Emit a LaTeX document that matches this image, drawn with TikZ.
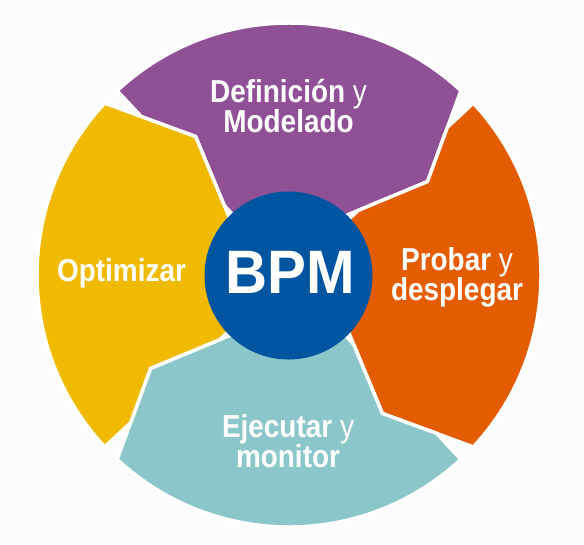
\documentclass[tikz,border=0pt]{standalone}
\usepackage{fontspec}
\setmainfont{Liberation Sans}[FakeStretch=0.88]
\newfontfamily\bpmfont{Liberation Sans}[FakeStretch=0.95]
\tikzset{every picture/.style={line width=0.75pt}}
\tikzset{segment/.style={draw=white, line width=2.6pt, line join=miter},
  seglabel/.style={text=white, align=center, font=\fontsize{23.8}{22.5}\selectfont}}

\begin{document}
\begin{tikzpicture}[x=0.75pt,y=0.75pt,yscale=-1,xscale=1]
\useasboundingbox (0,0) rectangle (584,544);

%Shape: Rectangle [background]
\fill [color={rgb, 255:red, 252; green, 252; blue, 254 }] (0,0) rectangle (584,544);

\begin{scope}[shift={(289,275)}, yscale=-1]
%Shape: Segment [top]
\draw [segment, fill={rgb, 255:red, 143; green, 80; blue, 150 }] (133:252) arc [start angle=133, end angle=47, radius=252] -- (34:167) -- (47:80) arc [start angle=47, end angle=133, radius=80] -- (133:94.8) -- (124:167) -- (133:216.6) -- cycle ;
%Shape: Segment [right]
\draw [segment, rotate=-90, fill={rgb, 255:red, 227; green, 92; blue, 0 }] (133:252) arc [start angle=133, end angle=47, radius=252] -- (34:167) -- (47:80) arc [start angle=47, end angle=133, radius=80] -- (133:94.8) -- (124:167) -- (133:216.6) -- cycle ;
%Shape: Segment [bottom]
\draw [segment, rotate=-180, fill={rgb, 255:red, 139; green, 199; blue, 202 }] (133:252) arc [start angle=133, end angle=47, radius=252] -- (34:167) -- (47:80) arc [start angle=47, end angle=133, radius=80] -- (133:94.8) -- (124:167) -- (133:216.6) -- cycle ;
%Shape: Segment [left]
\draw [segment, rotate=90, fill={rgb, 255:red, 240; green, 186; blue, 0 }] (133:252) arc [start angle=133, end angle=47, radius=252] -- (34:167) -- (47:80) arc [start angle=47, end angle=133, radius=80] -- (133:94.8) -- (124:167) -- (133:216.6) -- cycle ;
\end{scope}

%Shape: Circle [centre]
\fill [color={rgb, 255:red, 0; green, 85; blue, 161 }] (288.5,275.5) circle (84) ;

% Text Node
\node [seglabel] (defin) at (288.5,106) {\textbf{Definición} y\\\textbf{Modelado}};
% Text Node
\node [seglabel] (probar) at (457,277.7) {\textbf{Probar} y\\\textbf{desplegar}};
% Text Node
\node [seglabel] (ejecutar) at (288,441.5) {\textbf{Ejecutar} y\\\textbf{monitor}};
% Text Node
\node [seglabel] (optim) at (121.5,273) {\textbf{Optimizar}};
% Text Node
\node [text=white, font=\bpmfont\bfseries\fontsize{46}{46}\selectfont] (bpm) at (290.5,272) {BPM};

\end{tikzpicture}
\end{document}
